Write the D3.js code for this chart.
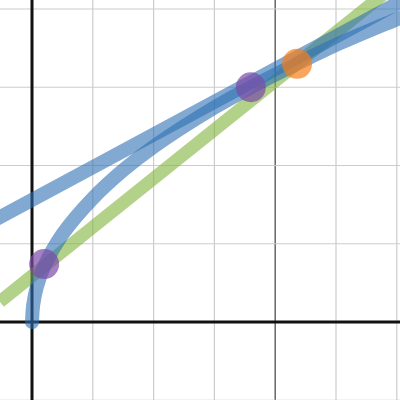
<!DOCTYPE html><html><head><script src="https://cdn.jsdelivr.net/npm/d3@7"></script>
<style>body{margin:0}</style></head><body><svg width="400" height="400"></svg><script>
const curveX=[0,0.02,0.08,0.2,0.5,1,1.5,2,3,3.6,4.36,5,6,6.5];
const curveY=[0,0.22,0.45,0.71,1.12,1.58,1.94,2.24,2.74,3.0,3.3,3.54,3.87,4.03];
const tangentX=[-0.6,6.1];const tangentY=[1.31,4.11];
const secantX=[-0.53,5.8];const secantY=[0.26,4.2];
const pointsX=[0.2,3.6,4.36];const pointsY=[0.74,3.0,3.3];
const pointColors=["#7a4aa6","#7a4aa6","#fa7e19"];
const gridX=[-1,0,1,2,3,4,5,6,7];const gridY=[-1,0,1,2,3,4];
const svg=d3.select("svg");
const x=d3.scaleLinear().domain([0,1]).range([32,92.8]);
const y=d3.scaleLinear().domain([0,1]).range([322,243.75]);
svg.append("rect").attr("width",400).attr("height",400).attr("fill","#fff");
svg.selectAll(".gx").data(gridX).join("line").attr("x1",d=>x(d)).attr("x2",d=>x(d)).attr("y1",0).attr("y2",400)
 .attr("stroke",d=>d==4?"#666":"#ccc").attr("stroke-width",d=>d==4?1.5:1.2);
svg.selectAll(".gy").data(gridY).join("line").attr("y1",d=>y(d)).attr("y2",d=>y(d)).attr("x1",0).attr("x2",400)
 .attr("stroke","#ccc").attr("stroke-width",1.2);
svg.append("line").attr("x1",x(0)).attr("x2",x(0)).attr("y1",0).attr("y2",400).attr("stroke","#111").attr("stroke-width",3);
svg.append("line").attr("y1",y(0)).attr("y2",y(0)).attr("x1",0).attr("x2",400).attr("stroke","#111").attr("stroke-width",3);
const line=d3.line().x(d=>x(d[0])).y(d=>y(d[1]));
svg.append("path").attr("d",line(secantX.map((v,i)=>[v,secantY[i]]))).attr("stroke","#7fb23a").attr("stroke-opacity",0.6).attr("stroke-width",13).attr("fill","none");
svg.append("path").attr("d",line(tangentX.map((v,i)=>[v,tangentY[i]]))).attr("stroke","#2d70b3").attr("stroke-opacity",0.6).attr("stroke-width",14).attr("fill","none");
svg.append("path").attr("d",line.curve(d3.curveCatmullRom)(curveX.map((v,i)=>[v,curveY[i]]))).attr("stroke","#2d70b3").attr("stroke-opacity",0.6).attr("stroke-width",14).attr("fill","none").attr("stroke-linecap","round");
svg.selectAll(".pt").data(pointsX).join("circle").attr("cx",d=>x(d)).attr("cy",(d,i)=>y(pointsY[i])).attr("r",15)
 .attr("fill",(d,i)=>pointColors[i]).attr("fill-opacity",0.7);
</script></body></html>
